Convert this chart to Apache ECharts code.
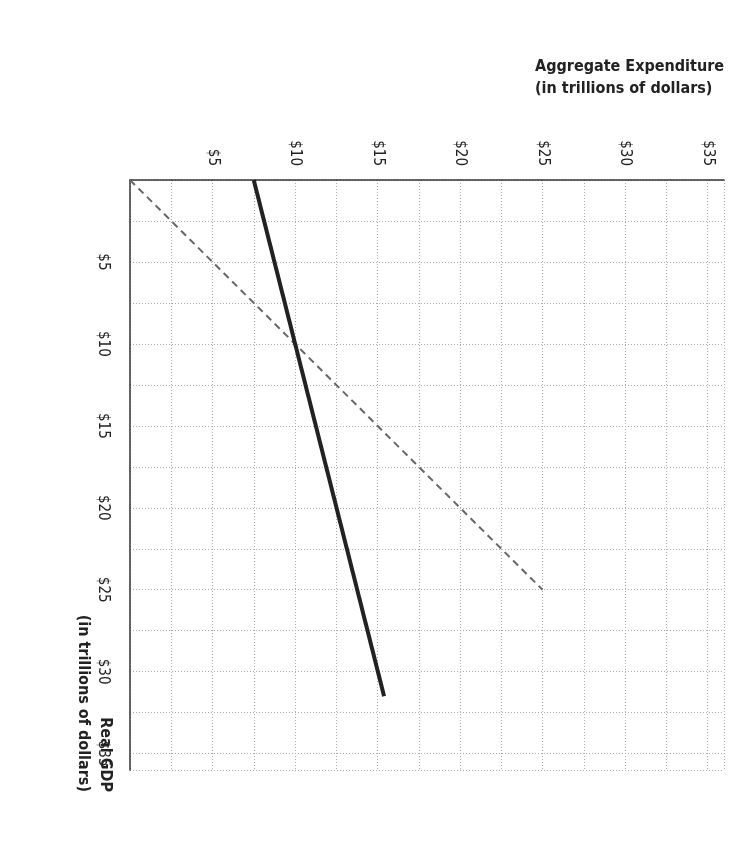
<!DOCTYPE html>
<html>
<head>
<meta charset="utf-8">
<script src="https://cdn.jsdelivr.net/npm/echarts@6/dist/echarts.min.js"></script>
<style>html,body{margin:0;padding:0;background:#fff}#chart{width:752px;height:852px}</style>
</head>
<body>
<div id="chart"></div>
<script>
// x = Aggregate Expenditure, y = Real GDP (chart is drawn turned a quarter right)
let aeLine = [[7.5, 0], [15.4, 31.5]];
let line45 = [[0, 0], [25, 25]];
let font = "'Liberation Sans Narrow', 'DejaVu Sans Condensed', sans-serif";

let chart = echarts.init(document.querySelector('#chart'));

function money(v) {
  return v % 5 === 0 && v > 0 ? '$' + v : '';
}

let gridLine = {show: true, lineStyle: {color: '#aaa', type: [1, 2], width: 1}};

function endMark(pt, text, dx, dy) {
  return {
    symbol: 'none', silent: true,
    data: [{coord: pt, symbolSize: 0, label: {
      show: true, formatter: text, rotate: -90, position: 'inside', offset: [dx, dy],
      fontFamily: font, fontSize: 16, color: '#111', align: 'left', verticalAlign: 'middle'
    }}]
  };
}

let option = {
  animation: false,
  grid: {left: 130, top: 180, right: 28, bottom: 82},
  xAxis: {
    type: 'value', position: 'top', min: 0, max: 36, interval: 2.5,
    axisLine: {show: true, lineStyle: {color: '#333', width: 1.5}},
    axisTick: {show: false},
    axisLabel: {formatter: money, rotate: -90, color: '#222', fontFamily: font, fontSize: 15, margin: 14, showMaxLabel: false},
    splitLine: gridLine
  },
  yAxis: {
    type: 'value', inverse: true, min: 0, max: 36, interval: 2.5,
    axisLine: {show: true, lineStyle: {color: '#333', width: 1.5}},
    axisTick: {show: false},
    axisLabel: {formatter: money, rotate: -90, color: '#222', fontFamily: font, fontSize: 15, margin: 20, showMaxLabel: false},
    splitLine: gridLine
  },
  series: [
    {
      type: 'line', symbol: 'none',
      lineStyle: {color: '#666', width: 2, type: [7, 5]},
      data: line45,
      markPoint: endMark(line45[1], '45° Line', 12, 4)
    },
    {
      type: 'line', symbol: 'none',
      lineStyle: {color: '#222', width: 4},
      data: aeLine,
      markPoint: endMark(aeLine[1], 'AE', 30, 0)
    }
  ],
  graphic: [
    {type: 'text', right: 28, top: 56, style: {text: 'Aggregate Expenditure\n(in trillions of dollars)', align: 'right', font: 'bold 16px ' + font, fill: '#222', lineHeight: 22}},
    {type: 'text', x: 94, y: 792, rotation: -Math.PI / 2, style: {text: 'Real GDP\n(in trillions of dollars)', align: 'right', verticalAlign: 'middle', font: 'bold 16px ' + font, fill: '#222', lineHeight: 22}}
  ]
};
chart.setOption(option);
</script>
</body>
</html>
